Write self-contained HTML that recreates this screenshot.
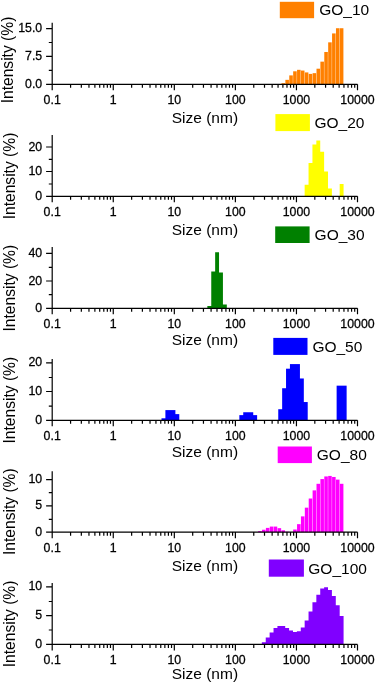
<!DOCTYPE html><html><head><meta charset="utf-8"><title>DLS</title><style>html,body{margin:0;padding:0;background:#fff}svg{display:block;font-family:"Liberation Sans",Arial,sans-serif}</style></head><body><svg width="376" height="685" viewBox="0 0 376 685" fill="#000">
<g fill="#ff8000"><rect x="281.48" y="83.19" width="3.55" height="1.11"/><rect x="285.37" y="79.84" width="3.55" height="4.46"/><rect x="289.26" y="75.39" width="3.55" height="8.91"/><rect x="293.16" y="71.3" width="3.55" height="13"/><rect x="297.05" y="69.82" width="3.55" height="14.48"/><rect x="300.94" y="70.56" width="3.55" height="13.74"/><rect x="304.83" y="72.42" width="3.55" height="11.88"/><rect x="308.72" y="73.9" width="3.55" height="10.4"/><rect x="312.61" y="73.16" width="3.55" height="11.14"/><rect x="316.51" y="68.7" width="3.55" height="15.6"/><rect x="320.4" y="61.65" width="3.55" height="22.65"/><rect x="324.29" y="51.99" width="3.55" height="32.31"/><rect x="328.18" y="42.34" width="3.55" height="41.96"/><rect x="332.07" y="33.43" width="3.55" height="50.87"/><rect x="335.97" y="28.23" width="3.55" height="56.07"/><rect x="339.86" y="28.23" width="3.55" height="56.07"/></g>
<rect x="279.8" y="1.8" width="34.3" height="16.4" fill="#ff8000"/>
<text x="319.2" y="15.3" font-size="15.5">GO_10</text>
<path d="M52.2 22.7V84.3H357.5M46.1 28.6H52.2M46.1 56.4H52.2M46.1 84.3H52.2M48.8 42.5H52.2M48.8 70.4H52.2M52.2 84.3V90.3M70.58 84.3V87.8M81.33 84.3V87.8M88.96 84.3V87.8M94.88 84.3V87.8M99.71 84.3V87.8M103.8 84.3V87.8M107.34 84.3V87.8M110.47 84.3V87.8M113.26 84.3V90.3M131.64 84.3V87.8M142.39 84.3V87.8M150.02 84.3V87.8M155.94 84.3V87.8M160.77 84.3V87.8M164.86 84.3V87.8M168.4 84.3V87.8M171.53 84.3V87.8M174.32 84.3V90.3M192.7 84.3V87.8M203.45 84.3V87.8M211.08 84.3V87.8M217 84.3V87.8M221.83 84.3V87.8M225.92 84.3V87.8M229.46 84.3V87.8M232.59 84.3V87.8M235.38 84.3V90.3M253.76 84.3V87.8M264.51 84.3V87.8M272.14 84.3V87.8M278.06 84.3V87.8M282.89 84.3V87.8M286.98 84.3V87.8M290.52 84.3V87.8M293.65 84.3V87.8M296.44 84.3V90.3M314.82 84.3V87.8M325.57 84.3V87.8M333.2 84.3V87.8M339.12 84.3V87.8M343.95 84.3V87.8M348.04 84.3V87.8M351.58 84.3V87.8M354.71 84.3V87.8M357.5 84.3V90.3" stroke="#000" stroke-width="1.2" fill="none"/>
<text transform="translate(42.2 32.1) scale(1.02 1)" font-size="12.1" text-anchor="end" stroke="#000" stroke-width="0.25">15.0</text>
<text transform="translate(42.2 59.9) scale(1.02 1)" font-size="12.1" text-anchor="end" stroke="#000" stroke-width="0.25">7.5</text>
<text transform="translate(42.2 87.8) scale(1.02 1)" font-size="12.1" text-anchor="end" stroke="#000" stroke-width="0.25">0.0</text>
<text transform="translate(52.2 103.8) scale(1.02 1)" font-size="12.1" text-anchor="middle" stroke="#000" stroke-width="0.25">0.1</text>
<text transform="translate(113.26 103.8) scale(1.02 1)" font-size="12.1" text-anchor="middle" stroke="#000" stroke-width="0.25">1</text>
<text transform="translate(174.32 103.8) scale(1.02 1)" font-size="12.1" text-anchor="middle" stroke="#000" stroke-width="0.25">10</text>
<text transform="translate(235.38 103.8) scale(1.02 1)" font-size="12.1" text-anchor="middle" stroke="#000" stroke-width="0.25">100</text>
<text transform="translate(296.44 103.8) scale(1.02 1)" font-size="12.1" text-anchor="middle" stroke="#000" stroke-width="0.25">1000</text>
<text transform="translate(357.5 103.8) scale(1.02 1)" font-size="12.1" text-anchor="middle" stroke="#000" stroke-width="0.25">10000</text>
<text x="204.9" y="122.9" font-size="15.5" text-anchor="middle">Size (nm)</text>
<text transform="translate(13.2 60) rotate(-90)" font-size="15.6" text-anchor="middle">Intensity (%)</text>
<g fill="#ffff00"><path d="M304.66 196.3V184.71H308.55V163.02H312.44V144.53H316.34V140.59H320.23V151.68H324.12V171.4H328.01V188.41H331.9V196.3Z"/><path d="M339.69 196.3V183.98H343.58V196.3Z"/></g>
<rect x="275.4" y="114.1" width="34.5" height="17" fill="#ffff00"/>
<text x="314.5" y="128.1" font-size="15.5">GO_20</text>
<path d="M52.2 134.9V196.3H357.5M46.1 147H52.2M46.1 171.5H52.2M46.1 196.3H52.2M48.8 159.4H52.2M48.8 184H52.2M52.2 196.3V202.3M70.58 196.3V199.8M81.33 196.3V199.8M88.96 196.3V199.8M94.88 196.3V199.8M99.71 196.3V199.8M103.8 196.3V199.8M107.34 196.3V199.8M110.47 196.3V199.8M113.26 196.3V202.3M131.64 196.3V199.8M142.39 196.3V199.8M150.02 196.3V199.8M155.94 196.3V199.8M160.77 196.3V199.8M164.86 196.3V199.8M168.4 196.3V199.8M171.53 196.3V199.8M174.32 196.3V202.3M192.7 196.3V199.8M203.45 196.3V199.8M211.08 196.3V199.8M217 196.3V199.8M221.83 196.3V199.8M225.92 196.3V199.8M229.46 196.3V199.8M232.59 196.3V199.8M235.38 196.3V202.3M253.76 196.3V199.8M264.51 196.3V199.8M272.14 196.3V199.8M278.06 196.3V199.8M282.89 196.3V199.8M286.98 196.3V199.8M290.52 196.3V199.8M293.65 196.3V199.8M296.44 196.3V202.3M314.82 196.3V199.8M325.57 196.3V199.8M333.2 196.3V199.8M339.12 196.3V199.8M343.95 196.3V199.8M348.04 196.3V199.8M351.58 196.3V199.8M354.71 196.3V199.8M357.5 196.3V202.3" stroke="#000" stroke-width="1.2" fill="none"/>
<text transform="translate(42.2 150.5) scale(1.02 1)" font-size="12.1" text-anchor="end" stroke="#000" stroke-width="0.25">20</text>
<text transform="translate(42.2 175) scale(1.02 1)" font-size="12.1" text-anchor="end" stroke="#000" stroke-width="0.25">10</text>
<text transform="translate(42.2 199.8) scale(1.02 1)" font-size="12.1" text-anchor="end" stroke="#000" stroke-width="0.25">0</text>
<text transform="translate(52.2 215.8) scale(1.02 1)" font-size="12.1" text-anchor="middle" stroke="#000" stroke-width="0.25">0.1</text>
<text transform="translate(113.26 215.8) scale(1.02 1)" font-size="12.1" text-anchor="middle" stroke="#000" stroke-width="0.25">1</text>
<text transform="translate(174.32 215.8) scale(1.02 1)" font-size="12.1" text-anchor="middle" stroke="#000" stroke-width="0.25">10</text>
<text transform="translate(235.38 215.8) scale(1.02 1)" font-size="12.1" text-anchor="middle" stroke="#000" stroke-width="0.25">100</text>
<text transform="translate(296.44 215.8) scale(1.02 1)" font-size="12.1" text-anchor="middle" stroke="#000" stroke-width="0.25">1000</text>
<text transform="translate(357.5 215.8) scale(1.02 1)" font-size="12.1" text-anchor="middle" stroke="#000" stroke-width="0.25">10000</text>
<text x="204.9" y="234.9" font-size="15.5" text-anchor="middle">Size (nm)</text>
<text transform="translate(14.7 176) rotate(-90)" font-size="15.6" text-anchor="middle">Intensity (%)</text>
<g fill="#008000"><path d="M207.36 308.3V306.1H211.26V271.45H215.15V252.34H219.04V272.55H222.93V304.59H226.82V308.3Z"/></g>
<rect x="275.2" y="226.4" width="34.4" height="16.6" fill="#008000"/>
<text x="314.6" y="239.8" font-size="15.5">GO_30</text>
<path d="M52.2 246.9V308.3H357.5M46.1 253.3H52.2M46.1 281H52.2M46.1 308.3H52.2M48.8 267.3H52.2M48.8 294.7H52.2M52.2 308.3V314.3M70.58 308.3V311.8M81.33 308.3V311.8M88.96 308.3V311.8M94.88 308.3V311.8M99.71 308.3V311.8M103.8 308.3V311.8M107.34 308.3V311.8M110.47 308.3V311.8M113.26 308.3V314.3M131.64 308.3V311.8M142.39 308.3V311.8M150.02 308.3V311.8M155.94 308.3V311.8M160.77 308.3V311.8M164.86 308.3V311.8M168.4 308.3V311.8M171.53 308.3V311.8M174.32 308.3V314.3M192.7 308.3V311.8M203.45 308.3V311.8M211.08 308.3V311.8M217 308.3V311.8M221.83 308.3V311.8M225.92 308.3V311.8M229.46 308.3V311.8M232.59 308.3V311.8M235.38 308.3V314.3M253.76 308.3V311.8M264.51 308.3V311.8M272.14 308.3V311.8M278.06 308.3V311.8M282.89 308.3V311.8M286.98 308.3V311.8M290.52 308.3V311.8M293.65 308.3V311.8M296.44 308.3V314.3M314.82 308.3V311.8M325.57 308.3V311.8M333.2 308.3V311.8M339.12 308.3V311.8M343.95 308.3V311.8M348.04 308.3V311.8M351.58 308.3V311.8M354.71 308.3V311.8M357.5 308.3V314.3" stroke="#000" stroke-width="1.2" fill="none"/>
<text transform="translate(42.2 256.8) scale(1.02 1)" font-size="12.1" text-anchor="end" stroke="#000" stroke-width="0.25">40</text>
<text transform="translate(42.2 284.5) scale(1.02 1)" font-size="12.1" text-anchor="end" stroke="#000" stroke-width="0.25">20</text>
<text transform="translate(42.2 311.8) scale(1.02 1)" font-size="12.1" text-anchor="end" stroke="#000" stroke-width="0.25">0</text>
<text transform="translate(52.2 327.8) scale(1.02 1)" font-size="12.1" text-anchor="middle" stroke="#000" stroke-width="0.25">0.1</text>
<text transform="translate(113.26 327.8) scale(1.02 1)" font-size="12.1" text-anchor="middle" stroke="#000" stroke-width="0.25">1</text>
<text transform="translate(174.32 327.8) scale(1.02 1)" font-size="12.1" text-anchor="middle" stroke="#000" stroke-width="0.25">10</text>
<text transform="translate(235.38 327.8) scale(1.02 1)" font-size="12.1" text-anchor="middle" stroke="#000" stroke-width="0.25">100</text>
<text transform="translate(296.44 327.8) scale(1.02 1)" font-size="12.1" text-anchor="middle" stroke="#000" stroke-width="0.25">1000</text>
<text transform="translate(357.5 327.8) scale(1.02 1)" font-size="12.1" text-anchor="middle" stroke="#000" stroke-width="0.25">10000</text>
<text x="204.9" y="344.8" font-size="15.5" text-anchor="middle">Size (nm)</text>
<text transform="translate(14.7 288.2) rotate(-90)" font-size="15.6" text-anchor="middle">Intensity (%)</text>
<g fill="#0000ff"><rect x="161.5" y="418.29" width="10" height="2.01"/><rect x="165.39" y="410.09" width="10" height="10.21"/><rect x="169.28" y="414.12" width="10" height="6.18"/><rect x="239.34" y="415.12" width="10" height="5.17"/><rect x="243.23" y="412.25" width="10" height="8.05"/><rect x="247.12" y="415.12" width="10" height="5.17"/><rect x="278.25" y="409.23" width="10" height="11.07"/><rect x="282.15" y="388.24" width="10" height="32.06"/><rect x="286.04" y="368.69" width="10" height="51.61"/><rect x="289.93" y="364.09" width="10" height="56.21"/><rect x="293.82" y="378.47" width="10" height="41.83"/><rect x="297.71" y="402.04" width="10" height="18.26"/><rect x="336.63" y="385.66" width="10" height="34.64"/></g>
<rect x="273.3" y="337.9" width="34.2" height="17" fill="#0000ff"/>
<text x="312.4" y="351.7" font-size="15.5">GO_50</text>
<path d="M52.2 358.9V420.3H357.5M46.1 362.8H52.2M46.1 391.5H52.2M46.1 420.3H52.2M48.8 377.5H52.2M48.8 406.1H52.2M52.2 420.3V426.3M70.58 420.3V423.8M81.33 420.3V423.8M88.96 420.3V423.8M94.88 420.3V423.8M99.71 420.3V423.8M103.8 420.3V423.8M107.34 420.3V423.8M110.47 420.3V423.8M113.26 420.3V426.3M131.64 420.3V423.8M142.39 420.3V423.8M150.02 420.3V423.8M155.94 420.3V423.8M160.77 420.3V423.8M164.86 420.3V423.8M168.4 420.3V423.8M171.53 420.3V423.8M174.32 420.3V426.3M192.7 420.3V423.8M203.45 420.3V423.8M211.08 420.3V423.8M217 420.3V423.8M221.83 420.3V423.8M225.92 420.3V423.8M229.46 420.3V423.8M232.59 420.3V423.8M235.38 420.3V426.3M253.76 420.3V423.8M264.51 420.3V423.8M272.14 420.3V423.8M278.06 420.3V423.8M282.89 420.3V423.8M286.98 420.3V423.8M290.52 420.3V423.8M293.65 420.3V423.8M296.44 420.3V426.3M314.82 420.3V423.8M325.57 420.3V423.8M333.2 420.3V423.8M339.12 420.3V423.8M343.95 420.3V423.8M348.04 420.3V423.8M351.58 420.3V423.8M354.71 420.3V423.8M357.5 420.3V426.3" stroke="#000" stroke-width="1.2" fill="none"/>
<text transform="translate(42.2 366.3) scale(1.02 1)" font-size="12.1" text-anchor="end" stroke="#000" stroke-width="0.25">20</text>
<text transform="translate(42.2 395) scale(1.02 1)" font-size="12.1" text-anchor="end" stroke="#000" stroke-width="0.25">10</text>
<text transform="translate(42.2 423.8) scale(1.02 1)" font-size="12.1" text-anchor="end" stroke="#000" stroke-width="0.25">0</text>
<text transform="translate(52.2 439.8) scale(1.02 1)" font-size="12.1" text-anchor="middle" stroke="#000" stroke-width="0.25">0.1</text>
<text transform="translate(113.26 439.8) scale(1.02 1)" font-size="12.1" text-anchor="middle" stroke="#000" stroke-width="0.25">1</text>
<text transform="translate(174.32 439.8) scale(1.02 1)" font-size="12.1" text-anchor="middle" stroke="#000" stroke-width="0.25">10</text>
<text transform="translate(235.38 439.8) scale(1.02 1)" font-size="12.1" text-anchor="middle" stroke="#000" stroke-width="0.25">100</text>
<text transform="translate(296.44 439.8) scale(1.02 1)" font-size="12.1" text-anchor="middle" stroke="#000" stroke-width="0.25">1000</text>
<text transform="translate(357.5 439.8) scale(1.02 1)" font-size="12.1" text-anchor="middle" stroke="#000" stroke-width="0.25">10000</text>
<text x="204.9" y="457.4" font-size="15.5" text-anchor="middle">Size (nm)</text>
<text transform="translate(14.7 400.2) rotate(-90)" font-size="15.6" text-anchor="middle">Intensity (%)</text>
<g fill="#ff00ff"><rect x="258.13" y="531.1" width="3.55" height="1.05"/><rect x="262.02" y="529.73" width="3.55" height="2.42"/><rect x="265.91" y="527.89" width="3.55" height="4.26"/><rect x="269.8" y="526.58" width="3.55" height="5.57"/><rect x="273.7" y="526.58" width="3.55" height="5.57"/><rect x="277.59" y="528.16" width="3.55" height="3.99"/><rect x="281.48" y="530.31" width="3.55" height="1.84"/><rect x="285.37" y="531.73" width="3.55" height="0.42"/><rect x="293.16" y="529.52" width="3.55" height="2.63"/><rect x="297.05" y="524.16" width="3.55" height="7.99"/><rect x="300.94" y="516.38" width="3.55" height="15.76"/><rect x="304.83" y="507.66" width="3.55" height="24.49"/><rect x="308.72" y="498.52" width="3.55" height="33.63"/><rect x="312.61" y="490.37" width="3.55" height="41.78"/><rect x="316.51" y="483.8" width="3.55" height="48.35"/><rect x="320.4" y="479.07" width="3.55" height="53.08"/><rect x="324.29" y="476.45" width="3.55" height="55.7"/><rect x="328.18" y="475.92" width="3.55" height="56.23"/><rect x="332.07" y="476.97" width="3.55" height="55.18"/><rect x="335.97" y="479.6" width="3.55" height="52.55"/><rect x="339.86" y="483.8" width="3.55" height="48.35"/></g>
<rect x="277.7" y="446.5" width="34.2" height="16.6" fill="#ff00ff"/>
<text x="316.8" y="460.2" font-size="15.5">GO_80</text>
<path d="M52.2 471.3V532.15H357.5M46.1 479.6H52.2M46.1 505.85H52.2M46.1 532.15H52.2M48.8 492.7H52.2M48.8 519.3H52.2M52.2 532.15V538.15M70.58 532.15V535.65M81.33 532.15V535.65M88.96 532.15V535.65M94.88 532.15V535.65M99.71 532.15V535.65M103.8 532.15V535.65M107.34 532.15V535.65M110.47 532.15V535.65M113.26 532.15V538.15M131.64 532.15V535.65M142.39 532.15V535.65M150.02 532.15V535.65M155.94 532.15V535.65M160.77 532.15V535.65M164.86 532.15V535.65M168.4 532.15V535.65M171.53 532.15V535.65M174.32 532.15V538.15M192.7 532.15V535.65M203.45 532.15V535.65M211.08 532.15V535.65M217 532.15V535.65M221.83 532.15V535.65M225.92 532.15V535.65M229.46 532.15V535.65M232.59 532.15V535.65M235.38 532.15V538.15M253.76 532.15V535.65M264.51 532.15V535.65M272.14 532.15V535.65M278.06 532.15V535.65M282.89 532.15V535.65M286.98 532.15V535.65M290.52 532.15V535.65M293.65 532.15V535.65M296.44 532.15V538.15M314.82 532.15V535.65M325.57 532.15V535.65M333.2 532.15V535.65M339.12 532.15V535.65M343.95 532.15V535.65M348.04 532.15V535.65M351.58 532.15V535.65M354.71 532.15V535.65M357.5 532.15V538.15" stroke="#000" stroke-width="1.2" fill="none"/>
<text transform="translate(42.2 483.1) scale(1.02 1)" font-size="12.1" text-anchor="end" stroke="#000" stroke-width="0.25">10</text>
<text transform="translate(42.2 509.35) scale(1.02 1)" font-size="12.1" text-anchor="end" stroke="#000" stroke-width="0.25">5</text>
<text transform="translate(42.2 535.65) scale(1.02 1)" font-size="12.1" text-anchor="end" stroke="#000" stroke-width="0.25">0</text>
<text transform="translate(52.2 551.65) scale(1.02 1)" font-size="12.1" text-anchor="middle" stroke="#000" stroke-width="0.25">0.1</text>
<text transform="translate(113.26 551.65) scale(1.02 1)" font-size="12.1" text-anchor="middle" stroke="#000" stroke-width="0.25">1</text>
<text transform="translate(174.32 551.65) scale(1.02 1)" font-size="12.1" text-anchor="middle" stroke="#000" stroke-width="0.25">10</text>
<text transform="translate(235.38 551.65) scale(1.02 1)" font-size="12.1" text-anchor="middle" stroke="#000" stroke-width="0.25">100</text>
<text transform="translate(296.44 551.65) scale(1.02 1)" font-size="12.1" text-anchor="middle" stroke="#000" stroke-width="0.25">1000</text>
<text transform="translate(357.5 551.65) scale(1.02 1)" font-size="12.1" text-anchor="middle" stroke="#000" stroke-width="0.25">10000</text>
<text x="204.9" y="571.3" font-size="15.5" text-anchor="middle">Size (nm)</text>
<text transform="translate(14.7 511.7) rotate(-90)" font-size="15.6" text-anchor="middle">Intensity (%)</text>
<g fill="#8000ff"><path d="M261.85 644.4V642.33H265.74V637.62H269.63V632.55H273.53V628.01H277.42V625.88H281.31V625.88H285.2V628.01H289.09V630.43H292.98V632.04H296.88V631.23H300.77V627.5H304.66V620.54H308.55V611.51H312.44V602.19H316.34V594.66H320.23V588.51H324.12V587.19H328.01V589.89H331.9V595.99H335.79V605.3H339.69V615.94H343.58V644.4Z"/></g>
<rect x="268.8" y="559.5" width="35.1" height="17.2" fill="#8000ff"/>
<text x="308.3" y="573.5" font-size="15.5">GO_100</text>
<path d="M52.2 583.1V644.4H357.5M46.1 586.9H52.2M46.1 615.6H52.2M46.1 644.4H52.2M48.8 601.5H52.2M48.8 630H52.2M52.2 644.4V650.4M70.58 644.4V647.9M81.33 644.4V647.9M88.96 644.4V647.9M94.88 644.4V647.9M99.71 644.4V647.9M103.8 644.4V647.9M107.34 644.4V647.9M110.47 644.4V647.9M113.26 644.4V650.4M131.64 644.4V647.9M142.39 644.4V647.9M150.02 644.4V647.9M155.94 644.4V647.9M160.77 644.4V647.9M164.86 644.4V647.9M168.4 644.4V647.9M171.53 644.4V647.9M174.32 644.4V650.4M192.7 644.4V647.9M203.45 644.4V647.9M211.08 644.4V647.9M217 644.4V647.9M221.83 644.4V647.9M225.92 644.4V647.9M229.46 644.4V647.9M232.59 644.4V647.9M235.38 644.4V650.4M253.76 644.4V647.9M264.51 644.4V647.9M272.14 644.4V647.9M278.06 644.4V647.9M282.89 644.4V647.9M286.98 644.4V647.9M290.52 644.4V647.9M293.65 644.4V647.9M296.44 644.4V650.4M314.82 644.4V647.9M325.57 644.4V647.9M333.2 644.4V647.9M339.12 644.4V647.9M343.95 644.4V647.9M348.04 644.4V647.9M351.58 644.4V647.9M354.71 644.4V647.9M357.5 644.4V650.4" stroke="#000" stroke-width="1.2" fill="none"/>
<text transform="translate(42.2 590.4) scale(1.02 1)" font-size="12.1" text-anchor="end" stroke="#000" stroke-width="0.25">10</text>
<text transform="translate(42.2 619.1) scale(1.02 1)" font-size="12.1" text-anchor="end" stroke="#000" stroke-width="0.25">5</text>
<text transform="translate(42.2 647.9) scale(1.02 1)" font-size="12.1" text-anchor="end" stroke="#000" stroke-width="0.25">0</text>
<text transform="translate(52.2 663.9) scale(1.02 1)" font-size="12.1" text-anchor="middle" stroke="#000" stroke-width="0.25">0.1</text>
<text transform="translate(113.26 663.9) scale(1.02 1)" font-size="12.1" text-anchor="middle" stroke="#000" stroke-width="0.25">1</text>
<text transform="translate(174.32 663.9) scale(1.02 1)" font-size="12.1" text-anchor="middle" stroke="#000" stroke-width="0.25">10</text>
<text transform="translate(235.38 663.9) scale(1.02 1)" font-size="12.1" text-anchor="middle" stroke="#000" stroke-width="0.25">100</text>
<text transform="translate(296.44 663.9) scale(1.02 1)" font-size="12.1" text-anchor="middle" stroke="#000" stroke-width="0.25">1000</text>
<text transform="translate(357.5 663.9) scale(1.02 1)" font-size="12.1" text-anchor="middle" stroke="#000" stroke-width="0.25">10000</text>
<text x="204.9" y="679.4" font-size="15.5" text-anchor="middle">Size (nm)</text>
<text transform="translate(14.7 623.9) rotate(-90)" font-size="15.6" text-anchor="middle">Intensity (%)</text>
</svg></body></html>
